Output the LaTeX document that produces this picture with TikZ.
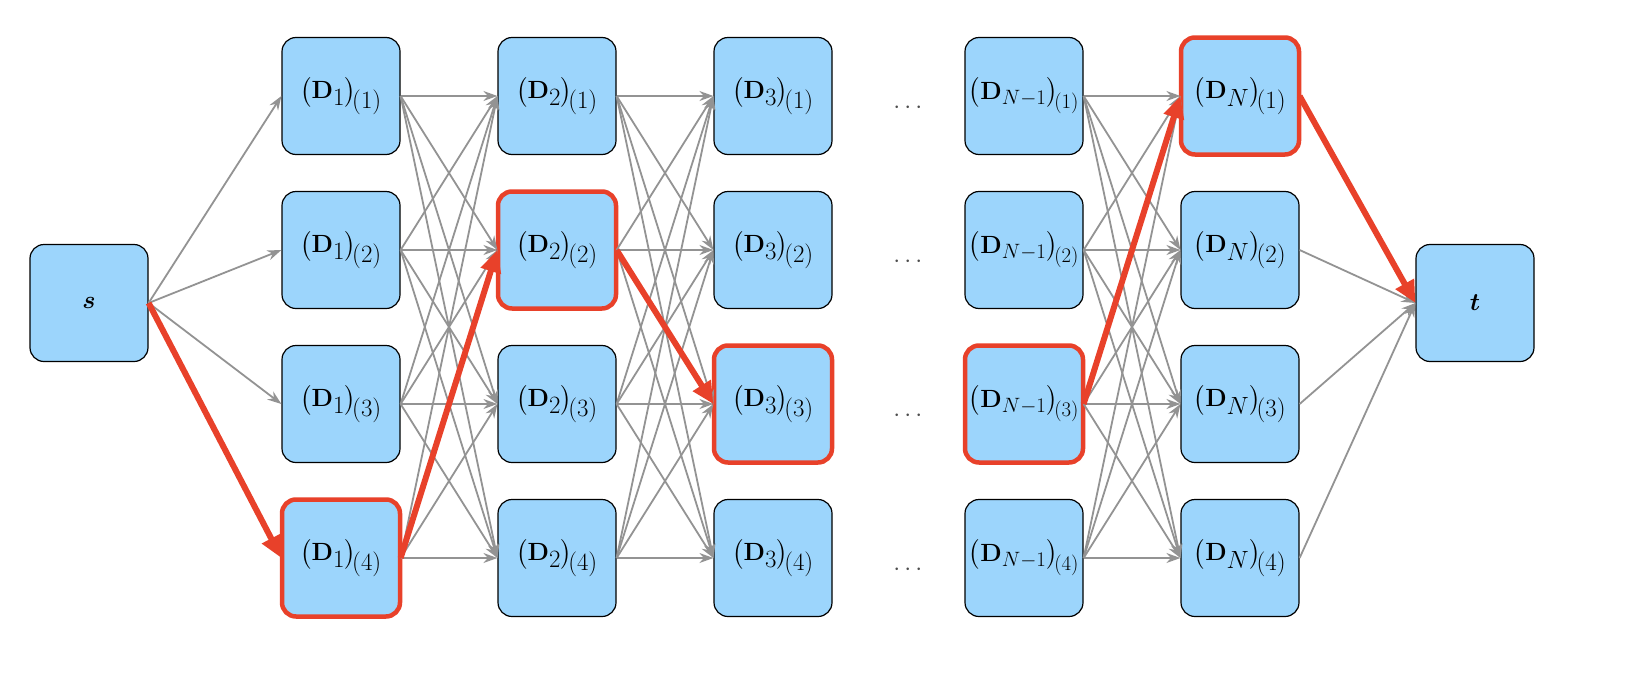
\documentclass[tikz,border=0pt]{standalone}
\usepackage{amsmath,bm}
\usetikzlibrary{arrows.meta}
\definecolor{nodeblue}{HTML}{9CD5FC}
\definecolor{redp}{HTML}{E8412A}
\begin{document}
\begin{tikzpicture}[x=1pt,y=-1pt,
  box/.style={draw=black,line width=1.2pt,fill=nodeblue,rounded corners=14pt,minimum width=118pt,minimum height=117pt,inner sep=0pt},
  hl/.style={draw=redp,line width=4.5pt},
  lab/.style={font=\fontsize{38}{40}\selectfont},
  labn/.style={font=\fontsize{28}{30}\selectfont},
  ge/.style={draw=gray!85,line width=1.8pt,-{Stealth[length=14pt,width=10pt]}},
  re/.style={draw=redp,line width=6pt,-{Triangle[length=22pt,width=20pt]}},
  dots/.style={font=\fontsize{60}{60}\selectfont\bfseries,text=black!70}]
\useasboundingbox (0,0) rectangle (1630,672);
\node[box] (s) at (89,303) {\fontsize{70}{70}\selectfont$\bm{s}$};
\node[box] (t) at (1475,303) {\fontsize{70}{70}\selectfont$\bm{t}$};
\def\ys{96,250,404,558}
\foreach \c/\x/\lab in {1/341/1,2/557/2,3/773/3,5/1240/N}{
  \foreach \y [count=\r] in \ys{
    \node[box,lab] (d\c\r) at (\x,\y) {$\big(\mathbf{D}_{\lab}\big)_{\!(\r)}$};
  }}
\foreach \y [count=\r] in \ys{
  \node[box,labn] (d4\r) at (1024,\y) {$\big(\mathbf{D}_{N-1}\big)_{\!(\r)}$};
  \node[dots] (dt\r) at (910,\y+12) {$\cdots$};
}
\foreach \n in {d14,d22,d33,d43,d51}{\node[box,hl] at (\n) {};}
\node[lab] at (d14) {$\big(\mathbf{D}_{1}\big)_{\!(4)}$};
\node[lab] at (d22) {$\big(\mathbf{D}_{2}\big)_{\!(2)}$};
\node[lab] at (d33) {$\big(\mathbf{D}_{3}\big)_{\!(3)}$};
\node[labn] at (d43) {$\big(\mathbf{D}_{N-1}\big)_{\!(3)}$};
\node[lab] at (d51) {$\big(\mathbf{D}_{N}\big)_{\!(1)}$};
\foreach \r in {1,2,3}{\draw[ge] (s.east) -- (d1\r.west);}
\foreach \a/\b in {1/2,2/3,4/5}{
  \foreach \i in {1,...,4}{\foreach \j in {1,...,4}{
    \draw[ge] (d\a\i.east) -- (d\b\j.west);}}}
\foreach \r in {2,3,4}{\draw[ge] (d5\r.east) -- (t.west);}
\draw[re] (s.east) -- (d14.west);
\draw[re] (d14.east) -- (d22.west);
\draw[re] (d22.east) -- (d33.west);
\draw[re] (d43.east) -- (d51.west);
\draw[re] (d51.east) -- (t.west);
\end{tikzpicture}
\end{document}
